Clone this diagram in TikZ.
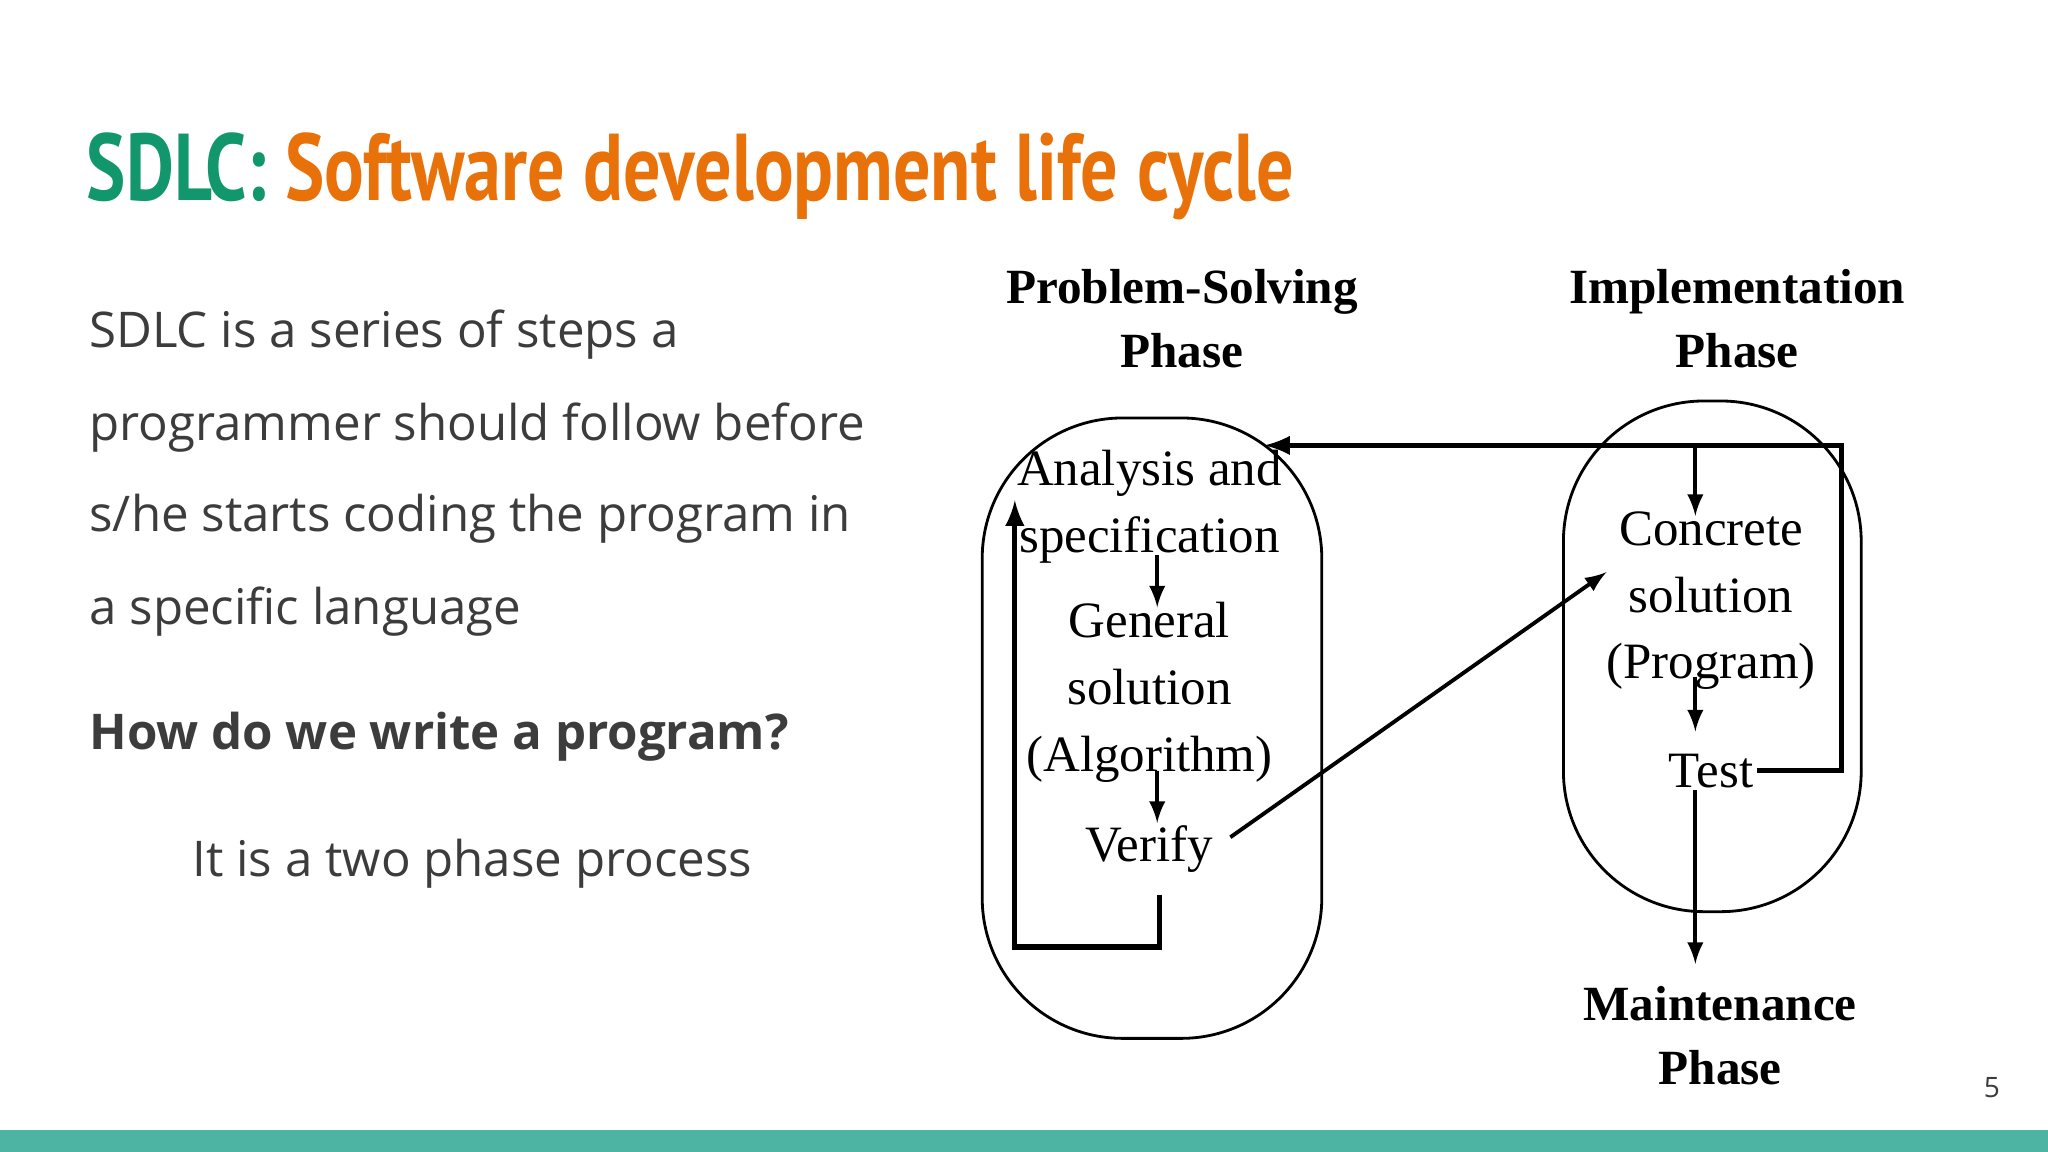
\documentclass[tikz,border=0pt]{standalone}
\usepackage{fontspec}
\setmainfont{Liberation Serif}
\newfontfamily\titlefont[FakeStretch=0.78]{PT Sans}
\newfontfamily\bodyfont{Open Sans}
\usetikzlibrary{positioning}
\definecolor{sdlcgreen}{RGB}{18,150,108}
\definecolor{sdlcorange}{RGB}{232,113,10}
\definecolor{bodygray}{RGB}{60,60,60}
\definecolor{barteal}{RGB}{77,180,164}

\begin{document}
\begin{tikzpicture}[x=0.013061cm, y=-0.013061cm]
\tikzset{phase/.style={font=\bfseries\fontsize{14}{18}\selectfont, align=center},
  stepbox/.style={font=\fontsize{14.5}{19}\selectfont, align=center, inner sep=1pt},
  body/.style={font=\bodyfont\fontsize{14}{17}\selectfont, text=bodygray, anchor=west, inner sep=0pt},
  arr/.style={line width=1.1pt, -latex},
  loopline/.style={line width=1.5pt}}
\useasboundingbox (0,0) rectangle (1568,882);
\fill[white] (0,0) rectangle (1568,882);
\fill[barteal] (0,865) rectangle (1568,882);
% title
\node[anchor=west, inner sep=0pt, font=\titlefont\bfseries\fontsize{27}{30}\selectfont] (title) at (66,135)
  {\textcolor{sdlcgreen}{SDLC:} \textcolor{sdlcorange}{Software development life cycle}};
% left text
\node[body] (l1) at (68,256) {SDLC is a series of steps a};
\node[body] (l2) at (68,327) {programmer should follow before};
\node[body] (l3) at (68,397) {s/he starts coding the program in};
\node[body] (l4) at (68,468) {a specific language};
\node[body, font=\bodyfont\bfseries\fontsize{14}{17}\selectfont] (q) at (68,564) {How do we write a program?};
\node[body] (ans) at (147,661) {It is a two phase process};
\node[text=bodygray, font=\bodyfont\fontsize{8}{10}\selectfont] (page) at (1525,833) {5};
% phases
\node[phase] (ps) at (905,244) {Problem-Solving\\Phase};
\node[phase] (ip) at (1330,244) {Implementation\\Phase};
\node[phase] (mp) at (1317,793) {Maintenance\\Phase};
\draw[line width=0.8pt, rounded corners=40] (752,320) rectangle (1012,795);
\draw[line width=0.8pt, rounded corners=40] (1197,307) rectangle (1425,698);
% steps
\node[stepbox] (anl) at (880,388) {Analysis and\\specification};
\node[stepbox] (gen) at (880,530) {General\\solution\\(Algorithm)};
\node[stepbox] (ver) at (880,650) {Verify};
\node[stepbox] (con) at (1310,460) {Concrete\\solution\\(Program)};
\node[stepbox] (tst) at (1310,590) {Test};
% connectors
\draw[arr] (886,425) -- (886,465);
\draw[arr] (886,590) -- (886,630);
\draw[loopline, -latex] (888,685) -- (888,725) -- (777,725) -- (777,383);
\draw[arr] (942,641) -- (1230,438);
\draw[loopline, -latex] (tst.east) -- (1410,590) -- (1410,341) -- (968,341);
\draw[arr] (1298,341) -- (1298,395);
\draw[arr] (1298,518) -- (1298,560);
\draw[arr] (1298,605) -- (1298,738);
\end{tikzpicture}
\end{document}
